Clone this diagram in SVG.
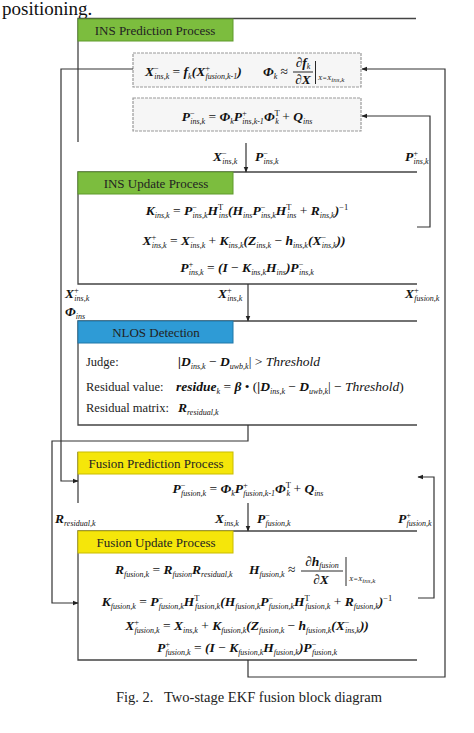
<svg xmlns="http://www.w3.org/2000/svg" width="474" height="733" viewBox="0 0 474 733">
<defs>
<marker id="ah" viewBox="0 0 10 10" refX="9" refY="5" markerWidth="6" markerHeight="6" orient="auto" markerUnits="userSpaceOnUse">
<path d="M0,1 L10,5 L0,9 z" fill="#222"/>
</marker>
<style>
.sec{fill:none;stroke:#444;stroke-width:1.3}
.con{fill:none;stroke:#333;stroke-width:1.2}
.arr{fill:none;stroke:#333;stroke-width:1.2;marker-end:url(#ah)}
.eqbox{fill:#f6f6f6;stroke:#9a9a9a;stroke-width:1.2;stroke-dasharray:3 1}
.lbl{font-family:"Liberation Serif",serif;font-size:13px;fill:#222;text-anchor:middle}
.m{font-family:"Liberation Serif",serif;font-size:13.5px;font-style:italic;font-weight:bold;fill:#111}
.s{font-size:8px;font-weight:normal}
.u{font-size:8.5px;font-weight:normal;font-style:normal}
.o{font-style:normal;font-weight:normal}
.t{font-family:"Liberation Serif",serif;font-size:12.5px;fill:#222}
.ti{font-style:italic;font-weight:normal}
.s2{font-family:"Liberation Serif",serif;font-size:7px;font-style:italic;fill:#222}
.mid{text-anchor:middle}
</style>
</defs>
<rect width="474" height="733" fill="#fff"/>
<text x="2" y="15" font-family="Liberation Serif, serif" font-size="19" fill="#111">positioning.</text>

<g id="ins-prediction">
<path class="sec" d="M416,18.5 H78 V142"/>
<rect x="78" y="19" width="155" height="22" fill="#7cbd3e" stroke="#5e9a2a" stroke-width="1"/>
<text class="lbl" x="155" y="35" font-size="12">INS Prediction Process</text>
<rect class="eqbox" x="133" y="53" width="228" height="34"/>
<text class="m" x="145" y="76">X<tspan class="u" dy="-5">−</tspan><tspan class="s" dx="-4.5" dy="8">ins,k</tspan><tspan class="o" dy="-3"> = </tspan>f<tspan class="s" dy="3">k</tspan><tspan dy="-3">(X</tspan><tspan class="u" dy="-5">+</tspan><tspan class="s" dx="-4.5" dy="8">fusion,k-1</tspan><tspan dy="-3">)</tspan></text>
<text class="m" x="263" y="76">Φ<tspan class="s" dy="3">k</tspan><tspan class="o" dy="-3"> ≈</tspan></text>
<text class="m mid" x="303" y="67">∂f<tspan class="s" dy="2">k</tspan></text>
<line x1="293" y1="72" x2="313" y2="72" stroke="#111" stroke-width="0.9"/>
<text class="m mid" x="303" y="84">∂X</text>
<line x1="315.5" y1="61" x2="315.5" y2="84" stroke="#111" stroke-width="0.9"/>
<text class="s2" x="318" y="80">X=X<tspan dy="2">ins,k</tspan></text>
<rect class="eqbox" x="133" y="98" width="228" height="33"/>
<text class="m mid" x="247" y="121">P<tspan class="u" dy="-5">−</tspan><tspan class="s" dx="-4.5" dy="8">ins,k</tspan><tspan class="o" dy="-3"> = </tspan>Φ<tspan class="s" dy="3">k</tspan><tspan dy="-3">P</tspan><tspan class="u" dy="-5">+</tspan><tspan class="s" dx="-4.5" dy="8">ins,k-1</tspan><tspan dy="-3">Φ</tspan><tspan class="u" dy="-5">T</tspan><tspan class="s" dx="-4.5" dy="8">k</tspan><tspan class="o" dy="-3"> + </tspan>Q<tspan class="s" dy="3">ins</tspan></text>
</g>

<g id="ins-update">
<path class="sec" d="M417,172 H78 V284 H417"/>
<rect x="78" y="172" width="155" height="22" fill="#7cbd3e" stroke="#5e9a2a" stroke-width="1"/>
<text class="lbl" x="156" y="188">INS Update Process</text>
<text class="m mid" x="247" y="215">K<tspan class="s" dy="3">ins,k</tspan><tspan class="o" dy="-3"> = </tspan>P<tspan class="u" dy="-5">−</tspan><tspan class="s" dx="-4.5" dy="8">ins,k</tspan><tspan dy="-3">H</tspan><tspan class="u" dy="-5">T</tspan><tspan class="s" dx="-4.5" dy="8">ins</tspan><tspan dy="-3">(H</tspan><tspan class="s" dy="3">ins</tspan><tspan dy="-3">P</tspan><tspan class="u" dy="-5">−</tspan><tspan class="s" dx="-4.5" dy="8">ins,k</tspan><tspan dy="-3">H</tspan><tspan class="u" dy="-5">T</tspan><tspan class="s" dx="-4.5" dy="8">ins</tspan><tspan class="o" dy="-3"> + </tspan>R<tspan class="s" dy="3">ins,k</tspan><tspan dy="-3">)</tspan><tspan class="u" dy="-5">−1</tspan></text>
<text class="m mid" x="244" y="245">X<tspan class="u" dy="-5">+</tspan><tspan class="s" dx="-4.5" dy="8">ins,k</tspan><tspan class="o" dy="-3"> = </tspan>X<tspan class="u" dy="-5">−</tspan><tspan class="s" dx="-4.5" dy="8">ins,k</tspan><tspan class="o" dy="-3"> + </tspan>K<tspan class="s" dy="3">ins,k</tspan><tspan dy="-3">(Z</tspan><tspan class="s" dy="3">ins,k</tspan><tspan class="o" dy="-3"> − </tspan>h<tspan class="s" dy="3">ins,k</tspan><tspan dy="-3">(X</tspan><tspan class="u" dy="-5">−</tspan><tspan class="s" dx="-4.5" dy="8">ins,k</tspan><tspan dy="-3">))</tspan></text>
<text class="m mid" x="247" y="272">P<tspan class="u" dy="-5">+</tspan><tspan class="s" dx="-4.5" dy="8">ins,k</tspan><tspan class="o" dy="-3"> = </tspan>(I<tspan class="o"> − </tspan>K<tspan class="s" dy="3">ins,k</tspan><tspan dy="-3">H</tspan><tspan class="s" dy="3">ins</tspan><tspan dy="-3">)P</tspan><tspan class="u" dy="-5">−</tspan><tspan class="s" dx="-4.5" dy="8">ins,k</tspan></text>
</g>

<g id="nlos-detection">
<path class="sec" d="M417,321 H78 V425 H417"/>
<rect x="78" y="321" width="155" height="22" fill="#2e9bd6" stroke="#1f77a8" stroke-width="1"/>
<text class="lbl" x="156" y="337">NLOS Detection</text>
<text class="t" x="86" y="366">Judge:</text>
<text class="m" x="178" y="366">|D<tspan class="s" dy="3">ins,k</tspan><tspan class="o" dy="-3"> − </tspan>D<tspan class="s" dy="3">uwb,k</tspan><tspan class="o" dy="-3">| &gt; </tspan><tspan class="ti">Threshold</tspan></text>
<text class="t" x="86" y="391">Residual value:</text>
<text class="m" x="176" y="391">residue<tspan class="s" dy="3">k</tspan><tspan class="o" dy="-3"> = </tspan>β<tspan class="o"> • (</tspan>|D<tspan class="s" dy="3">ins,k</tspan><tspan class="o" dy="-3"> − </tspan>D<tspan class="s" dy="3">uwb,k</tspan><tspan class="o" dy="-3">| − </tspan><tspan class="ti">Threshold</tspan><tspan class="o">)</tspan></text>
<text class="t" x="86" y="412">Residual matrix:</text>
<text class="m" x="178" y="412">R<tspan class="s" dy="3">residual,k</tspan></text>
</g>

<g id="fusion-prediction">
<path class="sec" d="M78,452 V503"/>
<rect x="78" y="452" width="155" height="22" fill="#f5e60a" stroke="#c9bc00" stroke-width="1"/>
<text class="lbl" x="156" y="468">Fusion Prediction Process</text>
<text class="m mid" x="248" y="493">P<tspan class="u" dy="-5">−</tspan><tspan class="s" dx="-4.5" dy="8">fusion,k</tspan><tspan class="o" dy="-3"> = </tspan>Φ<tspan class="s" dy="3">k</tspan><tspan dy="-3">P</tspan><tspan class="u" dy="-5">+</tspan><tspan class="s" dx="-4.5" dy="8">fusion,k-1</tspan><tspan dy="-3">Φ</tspan><tspan class="u" dy="-5">T</tspan><tspan class="s" dx="-4.5" dy="8">k</tspan><tspan class="o" dy="-3"> + </tspan>Q<tspan class="s" dy="3">ins</tspan></text>
</g>

<g id="fusion-update">
<path class="sec" d="M417,531 H78 V660 H417"/>
<rect x="78" y="531" width="155" height="22" fill="#f5e60a" stroke="#c9bc00" stroke-width="1"/>
<text class="lbl" x="156" y="547">Fusion Update Process</text>
<text class="m" x="115" y="574">R<tspan class="s" dy="3">fusion,k</tspan><tspan class="o" dy="-3"> = </tspan>R<tspan class="s" dy="3">fusion</tspan><tspan dy="-3">R</tspan><tspan class="s" dy="3">residual,k</tspan></text>
<text class="m" x="249" y="574">H<tspan class="s" dy="3">fusion,k</tspan><tspan class="o" dy="-3"> ≈</tspan></text>
<text class="m mid" x="322" y="566">∂h<tspan class="s" dy="2">fusion</tspan></text>
<line x1="301" y1="571" x2="343" y2="571" stroke="#111" stroke-width="0.9"/>
<text class="m mid" x="321" y="584">∂X</text>
<line x1="346" y1="557" x2="346" y2="586" stroke="#111" stroke-width="0.9"/>
<text class="s2" x="349" y="581">X=X<tspan dy="2">ins,k</tspan></text>
<text class="m mid" x="247" y="606">K<tspan class="s" dy="3">fusion,k</tspan><tspan class="o" dy="-3"> = </tspan>P<tspan class="u" dy="-5">−</tspan><tspan class="s" dx="-4.5" dy="8">fusion,k</tspan><tspan dy="-3">H</tspan><tspan class="u" dy="-5">T</tspan><tspan class="s" dx="-4.5" dy="8">fusion,k</tspan><tspan dy="-3">(H</tspan><tspan class="s" dy="3">fusion,k</tspan><tspan dy="-3">P</tspan><tspan class="u" dy="-5">−</tspan><tspan class="s" dx="-4.5" dy="8">fusion,k</tspan><tspan dy="-3">H</tspan><tspan class="u" dy="-5">T</tspan><tspan class="s" dx="-4.5" dy="8">fusion,k</tspan><tspan class="o" dy="-3"> + </tspan>R<tspan class="s" dy="3">fusion,k</tspan><tspan dy="-3">)</tspan><tspan class="u" dy="-5">−1</tspan></text>
<text class="m mid" x="247" y="630">X<tspan class="u" dy="-5">+</tspan><tspan class="s" dx="-4.5" dy="8">fusion,k</tspan><tspan class="o" dy="-3"> = </tspan>X<tspan class="s" dy="3">ins,k</tspan><tspan class="o" dy="-3"> + </tspan>K<tspan class="s" dy="3">fusion,k</tspan><tspan dy="-3">(Z</tspan><tspan class="s" dy="3">fusion,k</tspan><tspan class="o" dy="-3"> − </tspan>h<tspan class="s" dy="3">fusion,k</tspan><tspan dy="-3">(X</tspan><tspan class="u" dy="-5">−</tspan><tspan class="s" dx="-4.5" dy="8">ins,k</tspan><tspan dy="-3">))</tspan></text>
<text class="m mid" x="247" y="652">P<tspan class="u" dy="-5">+</tspan><tspan class="s" dx="-4.5" dy="8">fusion,k</tspan><tspan class="o" dy="-3"> = </tspan>(I<tspan class="o"> − </tspan>K<tspan class="s" dy="3">fusion,k</tspan><tspan dy="-3">H</tspan><tspan class="s" dy="3">fusion,k</tspan><tspan dy="-3">)P</tspan><tspan class="u" dy="-5">−</tspan><tspan class="s" dx="-4.5" dy="8">fusion,k</tspan></text>
</g>

<g id="connectors">
<path class="arr" d="M246,143 V172"/>
<path class="arr" d="M248,284 V321"/>
<path class="arr" d="M248,503 V531"/>
<path class="arr" d="M133,69 H61 V481 H78"/>
<path class="arr" d="M248,425 V441 H52 V603 H78"/>
<path class="arr" d="M248,660 V677 H445 V69 H362"/>
<path class="arr" d="M417,227 H430 V116 H362"/>
<path class="arr" d="M418,598 H434 V477 H418"/>
</g>

<g id="connector-labels">
<text class="m" x="213" y="161">X<tspan class="u" dy="-5">−</tspan><tspan class="s" dx="-4.5" dy="8">ins,k</tspan></text>
<text class="m" x="255" y="161">P<tspan class="u" dy="-5">−</tspan><tspan class="s" dx="-4.5" dy="8">ins,k</tspan></text>
<text class="m" x="405" y="161">P<tspan class="u" dy="-5">+</tspan><tspan class="s" dx="-4.5" dy="8">ins,k</tspan></text>
<text class="m" x="65" y="298">X<tspan class="u" dy="-5">+</tspan><tspan class="s" dx="-4.5" dy="8">ins,k</tspan></text>
<text class="m" x="65" y="316">Φ<tspan class="s" dy="3">ins</tspan></text>
<text class="m" x="218" y="298">X<tspan class="u" dy="-5">+</tspan><tspan class="s" dx="-4.5" dy="8">ins,k</tspan></text>
<text class="m" x="405" y="298">X<tspan class="u" dy="-5">+</tspan><tspan class="s" dx="-4.5" dy="8">fusion,k</tspan></text>
<text class="m" x="55" y="523">R<tspan class="s" dy="3">residual,k</tspan></text>
<text class="m" x="215" y="523">X<tspan class="s" dy="3">ins,k</tspan></text>
<text class="m" x="257" y="523">P<tspan class="u" dy="-5">−</tspan><tspan class="s" dx="-4.5" dy="8">fusion,k</tspan></text>
<text class="m" x="398" y="523">P<tspan class="u" dy="-5">+</tspan><tspan class="s" dx="-4.5" dy="8">fusion,k</tspan></text>
</g>

<text x="249" y="702" text-anchor="middle" font-family="Liberation Serif, serif" font-size="14.5" fill="#222" xml:space="preserve">Fig. 2.   Two-stage EKF fusion block diagram</text>
</svg>
